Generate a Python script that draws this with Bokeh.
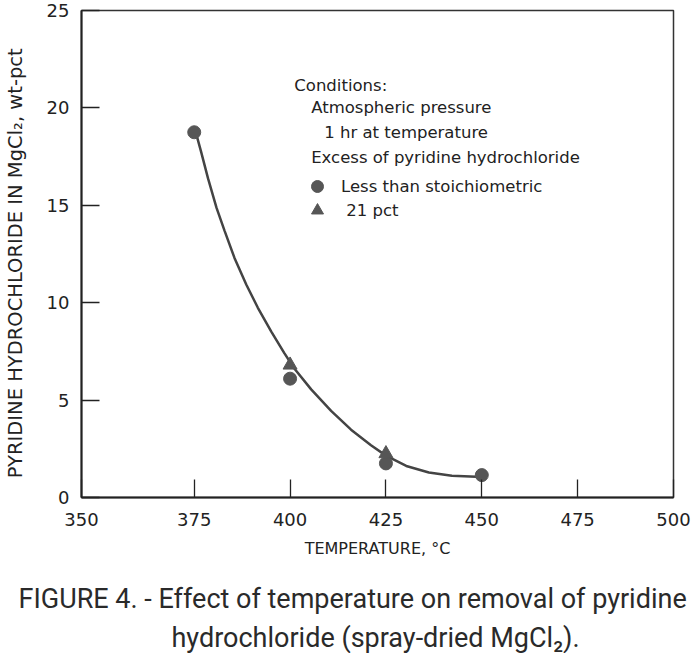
from bokeh.plotting import figure
from bokeh.models import (Range1d, FixedTicker, Label, Legend, LegendItem, Title)
from bokeh.embed import file_html
from bokeh.resources import INLINE

# ---- data ----
x_ticks = [375, 400, 425, 450, 475, 500]
y_ticks = [0, 5, 10, 15, 20, 25]
x_first_label = "350"

temp_less = [375, 400, 425, 450]
pct_less = [18.75, 6.1, 1.75, 1.15]

temp_21 = [400, 425]
pct_21 = [6.8, 2.25]

curve_temp = [375.5, 376.8, 378.6, 380.8, 382.9, 385.5, 388.6, 391.6, 395.1,
              398.5, 401.1, 405.5, 410.7, 415.9, 421.1, 425.0, 430.3, 436.2,
              442.2, 448.6]
curve_pct = [18.68, 17.74, 16.38, 14.88, 13.7, 12.3, 10.92, 9.74, 8.52,
             7.41, 6.62, 5.55, 4.45, 3.48, 2.68, 2.15, 1.62, 1.28,
             1.12, 1.07]

conditions = ["Conditions:", "Atmospheric pressure", "1 hr at temperature",
              "Excess of pyridine hydrochloride"]
series_names = ["Less than stoichiometric", " 21 pct"]
caption = ["FIGURE 4. -  Effect of temperature on removal of pyridine",
           "hydrochloride (spray-dried MgCl₂)."]

FONT = "DejaVu Sans"
CAP_FONT = "Roboto"
INK = "#222222"
MARK = "#565656"

x_start = 345.6

p = figure(width=691, height=653, output_backend="svg", toolbar_location=None,
           x_range=Range1d(x_start, 500), y_range=Range1d(0, 25),
           min_border_left=80, min_border_right=18, min_border_top=10,
           min_border_bottom=155)
p.xgrid.visible = False
p.ygrid.visible = False
p.outline_line_color = "#333333"
p.outline_line_width = 1.5
p.background_fill_color = "white"
p.border_fill_color = "white"

# axes
xa = p.xaxis[0]
xa.ticker = FixedTicker(ticks=[x_start] + x_ticks)
xa.major_label_overrides = {x_start: x_first_label}
ya = p.yaxis[0]
ya.ticker = FixedTicker(ticks=y_ticks)
for ax in (xa, ya):
    ax.minor_tick_line_color = None
    ax.major_tick_in = 18
    ax.major_tick_out = 0
    ax.major_tick_line_color = INK
    ax.major_tick_line_width = 1.3
    ax.axis_line_color = INK
    ax.axis_line_width = 2
    ax.major_label_text_font = FONT
    ax.major_label_text_font_size = "18px"
    ax.major_label_text_color = INK
    ax.axis_label_text_font = FONT
    ax.axis_label_text_font_style = "normal"
    ax.axis_label_text_color = INK
xa.major_label_standoff = 15
xa.axis_label = "TEMPERATURE, °C"
xa.axis_label_text_font_size = "16px"
xa.axis_label_standoff = 10
ya.major_label_standoff = 12
ya.axis_label = "PYRIDINE HYDROCHLORIDE IN MgCl₂,    wt-pct"
ya.axis_label_text_font_size = "19.5px"
ya.axis_label_standoff = 17

# curve and points
p.line(curve_temp, curve_pct, line_color="#444444", line_width=2.5)
r_less = p.scatter(temp_less, pct_less, marker="circle", size=13,
                   fill_color=MARK, line_color=MARK)
r_21 = p.scatter(temp_21, pct_21, marker="triangle", size=14,
                 fill_color=MARK, line_color=MARK)

# conditions text
cond_x = [401.1, 405.5, 408.9, 405.5]
cond_y = [21.16, 20.03, 18.75, 17.47]
for t, cx, cy in zip(conditions, cond_x, cond_y):
    p.add_layout(Label(x=cx, y=cy, text=t, text_font=FONT,
                       text_font_size="16.5px", text_color=INK,
                       text_baseline="middle"))

# legend: one single-item legend per row so the rows can sit 24 px apart
for name, rend, loc in ((series_names[0], r_less, (221, 296)),
                        (series_names[1], r_21, (221, 272))):
    lg = Legend(items=[LegendItem(label=name, renderers=[rend])],
                location=loc, padding=0, margin=0, spacing=0,
                glyph_width=30, glyph_height=30, label_standoff=9,
                label_text_font=FONT, label_text_font_size="16.5px",
                label_text_color=INK, border_line_alpha=0,
                background_fill_alpha=0)
    p.add_layout(lg, "center")

# caption as titles below the x axis (a thin spacer first)
spacer = Title(text=" ", align="left", standoff=12, text_font_size="1px")
t1 = Title(text=caption[0], align="left", offset=-63, standoff=10,
           text_font=CAP_FONT, text_font_size="27px",
           text_font_style="normal", text_color="#2a2a2a")
t2 = Title(text=caption[1], align="left", offset=90, standoff=0,
           text_font=CAP_FONT, text_font_size="27px",
           text_font_style="normal", text_color="#2a2a2a")
p.add_layout(spacer, "below")
p.add_layout(t1, "below")
p.add_layout(t2, "below")

open("out.html", "w").write(file_html(p, INLINE))
